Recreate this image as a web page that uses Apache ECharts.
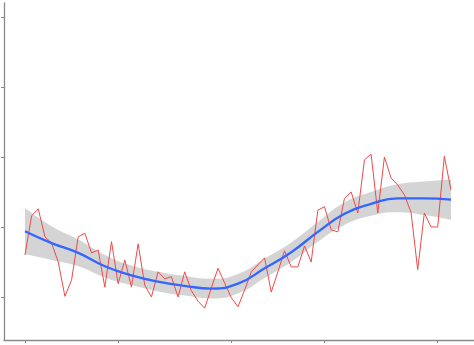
<!DOCTYPE html>
<html lang="en">
    <head>
        <meta charset="UTF-8" />
        <title>Series with loess smooth</title>
        <script src="https://cdn.jsdelivr.net/npm/echarts@6.0.0/dist/echarts.min.js"></script>
        <style>
            body { margin: 0; background: #fff; }
        </style>
    </head>
    <body>
        <!-- Chart container -->
        <div id="main" style="width: 474px; height: 345px"></div>

        <script>
            // Observed series (one value per step)
            const observed = [
                16.0, 21.6, 22.6, 18.6, 17.7, 15.0, 10.1, 12.4, 18.6, 19.1,
                16.3, 16.7, 11.4, 17.9, 11.9, 15.3, 11.4, 17.6, 11.7, 10.0,
                13.6, 12.6, 12.9, 10.0, 13.6, 10.9, 9.4, 8.4, 11.3, 14.1,
                12.0, 9.9, 8.6, 11.0, 13.6, 14.6, 15.6, 10.7, 13.6, 16.6,
                14.3, 14.3, 17.3, 15.0, 22.4, 22.9, 19.6, 19.3, 24.1, 25.0,
                22.0, 29.6, 30.4, 22.0, 30.0, 27.0, 26.0, 24.6, 22.1, 13.9,
                22.0, 20.0, 20.0, 30.1, 25.3
            ];

            // Smooth fit sampled every 4 steps, and its standard error band
            const fitSteps = [0, 4, 8, 12, 16, 20, 24, 28, 32, 36, 40, 44, 48, 52, 56, 60, 64];
            const fitValues = [19.4, 17.7, 16.3, 14.4, 13.1, 12.2, 11.6, 11.2, 11.9, 14.1, 16.4, 19.3, 21.9, 23.3, 24.1, 24.1, 23.9];
            const fitSe = [3.3, 2.4, 1.9, 1.6, 1.4, 1.4, 1.4, 1.4, 1.4, 1.4, 1.4, 1.4, 1.6, 1.7, 2.0, 2.4, 2.9];

            // Tick positions
            const xTicks = [0, 14, 31, 45, 62];
            const yTicks = [10, 20, 30, 40, 50];

            const yMin = 3.857;
            const yMax = 52;

            let myChart = echarts.init(document.getElementById("main"));

            const obsData = observed.map((v, i) => [i, v]);
            const lowerData = fitValues.map((v, i) => v - fitSe[i]);
            const widthData = fitSe.map((s) => 2 * s);

            const axisColor = "#8a8a8a";

            let options = {
                animation: false,
                grid: [
                    { left: 4, right: 0, top: 3, bottom: 5 },
                    // second grid spans exactly first..last step, for the fit band
                    { left: 25, right: 23, top: 3, bottom: 5 }
                ],
                xAxis: [
                    {
                        type: "value",
                        gridIndex: 0,
                        min: -3.15,
                        max: 67.46,
                        axisLine: { show: true, onZero: false, lineStyle: { color: axisColor, width: 1.3 } },
                        axisTick: { show: true, length: 3, customValues: xTicks, lineStyle: { color: axisColor } },
                        axisLabel: { show: false },
                        splitLine: { show: false }
                    },
                    {
                        type: "category",
                        gridIndex: 1,
                        boundaryGap: false,
                        data: fitSteps,
                        show: false
                    }
                ],
                yAxis: [
                    {
                        type: "value",
                        gridIndex: 0,
                        min: yMin,
                        max: yMax,
                        axisLine: { show: true, onZero: false, lineStyle: { color: axisColor, width: 1.3 } },
                        axisTick: { show: true, length: 3, customValues: yTicks, lineStyle: { color: axisColor } },
                        axisLabel: { show: false },
                        splitLine: { show: false }
                    },
                    {
                        type: "value",
                        gridIndex: 1,
                        min: yMin,
                        max: yMax,
                        show: false,
                        splitLine: { show: false }
                    }
                ],
                series: [
                    {
                        name: "lower",
                        type: "line",
                        xAxisIndex: 1,
                        yAxisIndex: 1,
                        stack: "band",
                        smooth: true,
                        symbol: "none",
                        data: lowerData,
                        lineStyle: { opacity: 0 },
                        z: 1
                    },
                    {
                        name: "band",
                        type: "line",
                        xAxisIndex: 1,
                        yAxisIndex: 1,
                        stack: "band",
                        smooth: true,
                        symbol: "none",
                        data: widthData,
                        lineStyle: { opacity: 0 },
                        areaStyle: { color: "#d4d4d4", opacity: 1 },
                        z: 1
                    },
                    {
                        name: "observed",
                        type: "line",
                        xAxisIndex: 0,
                        yAxisIndex: 0,
                        symbol: "none",
                        data: obsData,
                        lineStyle: { color: "#f04848", width: 1 },
                        z: 2
                    },
                    {
                        name: "fit",
                        type: "line",
                        xAxisIndex: 1,
                        yAxisIndex: 1,
                        smooth: true,
                        symbol: "none",
                        data: fitValues,
                        lineStyle: { color: "#3366ff", width: 2.3 },
                        z: 3
                    }
                ]
            };

            myChart.setOption(options);
        </script>
    </body>
</html>
